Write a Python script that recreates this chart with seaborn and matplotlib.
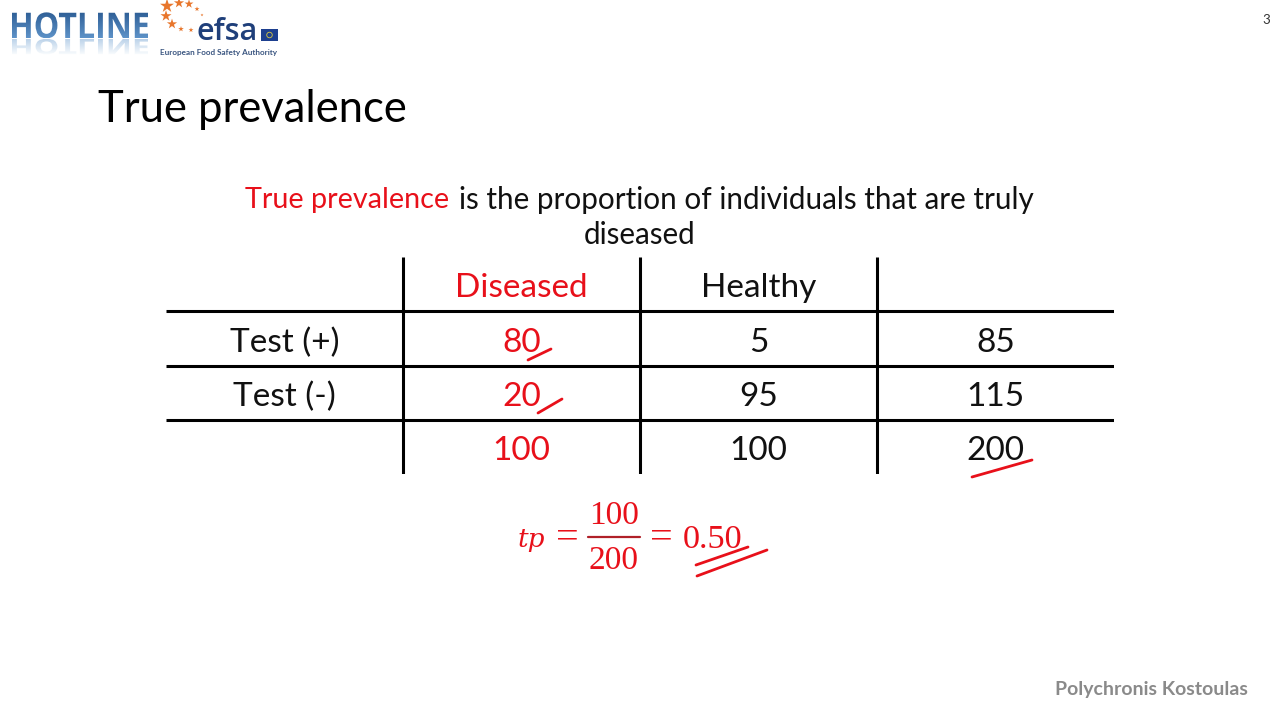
import numpy as np
import pandas as pd
import matplotlib
matplotlib.use('Agg')
import matplotlib.pyplot as plt
from matplotlib.patches import PathPatch, Rectangle
from matplotlib.textpath import TextPath
from matplotlib.font_manager import FontProperties
from matplotlib.transforms import Affine2D
import seaborn as sns

# table contents
col_labels = ['', 'Diseased', 'Healthy', '']
row_labels = ['Test (+)', 'Test (-)', '']
diseased = [80, 20, 100]
healthy = [5, 95, 100]
totals = [85, 115, 200]

red = '#e8101a'
ink = '#111111'
sns.set_theme(style='white')
plt.rcParams['font.family'] = ['Lato', 'DejaVu Sans']

fig = plt.figure(figsize=(12.8, 7.2), dpi=100, facecolor='white')

# overlay in pixel coords for the slide furniture
ov = fig.add_axes([0, 0, 1, 1], zorder=3)
ov.set_xlim(0, 1280)
ov.set_ylim(720, 0)
ov.axis('off')
ov.patch.set_alpha(0)

# -------------------------------------------------------------
# Table
# -------------------------------------------------------------
tx0, tx1, ty0, ty1 = 166, 1114, 257, 474
ax = fig.add_axes([tx0 / 1280, 1 - ty1 / 720, (tx1 - tx0) / 1280, (ty1 - ty0) / 720])

grid = pd.DataFrame({
    'label': [col_labels[0]] + row_labels,
    'diseased': [col_labels[1]] + [str(v) for v in diseased],
    'healthy': [col_labels[2]] + [str(v) for v in healthy],
    'total': [col_labels[3]] + [str(v) for v in totals],
})
blank = np.zeros(grid.shape)
sns.heatmap(blank, annot=grid.values, fmt='', cbar=False, ax=ax,
            cmap=sns.color_palette(['white'], as_cmap=True),
            xticklabels=False, yticklabels=False,
            annot_kws={'fontsize': 24, 'color': ink, 'family': 'Lato'})
for t in ax.texts:
    x, y = t.get_position()
    t.set_color(red if 1 < x < 2 else ink)
    t.set_y(y + 0.08)  # heatmap centres a bit high compared to the slide
for s in ax.spines.values():
    s.set_visible(False)
ax.hlines([1, 2, 3], 0, 4, color='black', lw=2.2)
ax.vlines([1, 2, 3], 0, 4, color='black', lw=2.2)

# -------------------------------------------------------------
# Slide text
# -------------------------------------------------------------
ov.text(98, 109, 'True prevalence', fontsize=31.4, color='black', va='center', ha='left')
line_size = 21.3
ov.text(245, 200, 'True prevalence', fontsize=20.7, color=red, va='center', ha='left')
ov.text(459, 200, 'is the proportion of individuals that are truly', fontsize=line_size,
        color=ink, va='center', ha='left')
ov.text(640, 235, 'diseased', fontsize=line_size, color=ink, va='center', ha='center')
ov.text(1266, 20, '3', fontsize=9.5, color='#333333', va='center', ha='center')
ov.text(1248, 689, 'Polychronis Kostoulas', fontsize=14, fontweight='bold', color='#8a8a8a',
        va='center', ha='right')

# formula
serif = 'Liberation Serif'
ov.text(531, 539, 'tp', fontsize=19, family='DejaVu Serif', style='italic', color=red, va='center', ha='center')
ov.text(567, 539, '=', fontsize=29, family=serif, color=red, va='center', ha='center')
ov.text(614, 516, '100', fontsize=24, family=serif, color=red, va='center', ha='center')
ov.text(614, 561, '200', fontsize=24, family=serif, color=red, va='center', ha='center')
ov.plot([588, 640], [537, 537], color='#b02028', lw=1.6)
ov.text(661, 539, '=', fontsize=29, family=serif, color=red, va='center', ha='center')
ov.text(713, 540, '0.50', fontsize=24.7, family=serif, color=red, va='center', ha='center')

# pen strokes
strokes = [
    ([528, 551], [360, 349]),
    ([538, 562], [413, 399]),
    ([972, 1032], [477, 460]),
    ([696, 748], [565, 547]),
    ([697, 767], [576, 550]),
]
for xs, ys in strokes:
    ov.plot(xs, ys, color=red, lw=2.0, solid_capstyle='round')

# -------------------------------------------------------------
# Logo
# -------------------------------------------------------------
fp = FontProperties(family='Open Sans', weight='bold')
hot = TextPath((0, 0), 'HOTLINE', size=34, prop=fp)
ext = hot.get_extents()
sx = 136 / ext.width
base_tf = Affine2D().translate(-ext.x0, 0).scale(sx, -1.04).translate(12, 38)
up = PathPatch(hot, lw=0, transform=base_tf + ov.transData)
grad = np.linspace(0, 1, 40).reshape(-1, 1)
blues = sns.blend_palette(['#2f5f96', '#5d92c8'], as_cmap=True)
im = ov.imshow(grad, extent=(10, 150, 38, 12), cmap=blues, aspect='auto', zorder=2)
ov.add_patch(up)
up.set_visible(False)
im.set_clip_path(up.get_path(), up.get_transform())

# mirrored HOTLINE fading out below the letters
down_tf = Affine2D().translate(-ext.x0, 0).scale(sx, 0.62).translate(12, 39)
down = PathPatch(hot, lw=0, transform=down_tf + ov.transData)
fade = sns.blend_palette(['#bcd3ea', '#ffffff'], as_cmap=True)
im2 = ov.imshow(grad, extent=(10, 150, 56, 39), cmap=fade, aspect='auto', zorder=2)
ov.add_patch(down)
down.set_visible(False)
im2.set_clip_path(down.get_path(), down.get_transform())
ov.set_xlim(0, 1280)
ov.set_ylim(720, 0)

star_x = [167, 179, 189, 197, 202, 166, 172, 181, 191]
star_y = [6, 3, 4, 9, 15, 16, 24, 29, 30]
star_s = [110, 60, 45, 14, 5, 70, 60, 18, 14]
ov.scatter(star_x, star_y, s=star_s, marker='*', color='#e8762c', linewidths=0, zorder=2)
ov.text(196, 32, 'efsa', fontsize=22, fontweight='semibold', family='Open Sans', color='#1f3f7a',
        va='center', ha='left')
ov.add_patch(Rectangle((261, 29), 17, 12, facecolor='#1d3f8f', edgecolor='none'))
ov.scatter([269.5], [35], s=16, marker='o', facecolors='none', edgecolors='#d8c840', linewidths=0.6)
ov.text(160, 52, 'European Food Safety Authority', fontsize=5.85, fontweight='bold', family='Lato',
        color='#3a5580', va='center', ha='left')

fig.savefig('out.png', dpi=100, facecolor='white')
